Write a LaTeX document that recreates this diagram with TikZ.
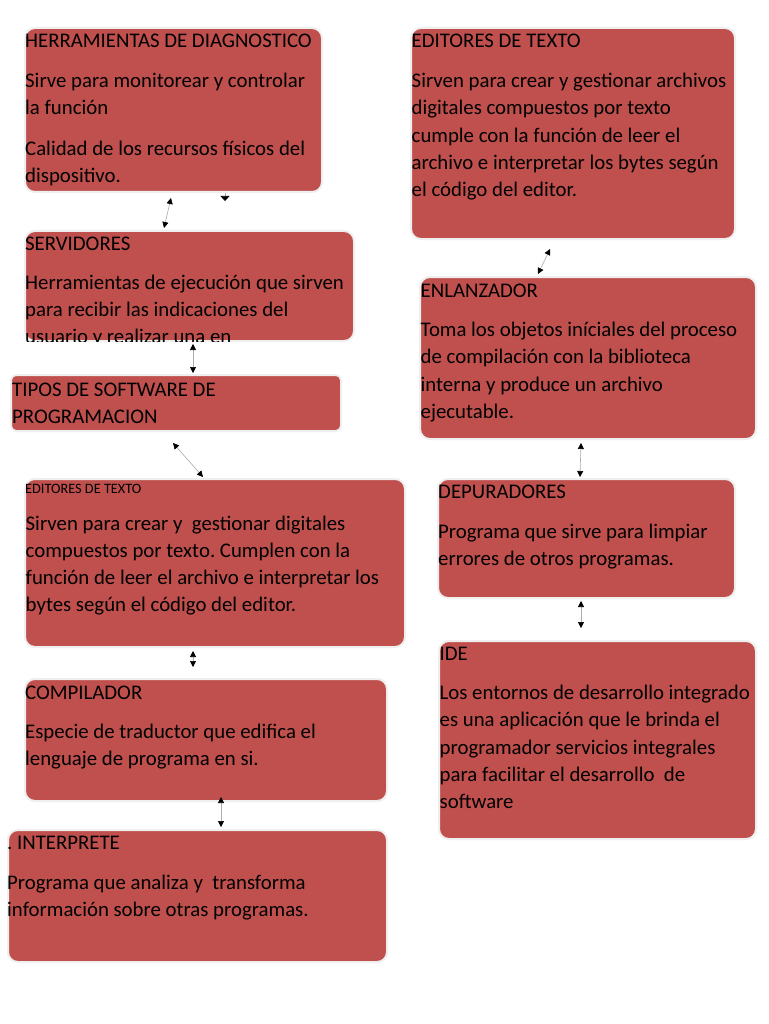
\documentclass[tikz,border=0pt]{standalone}
\usepackage{fontspec}
\setmainfont{Carlito}
\usetikzlibrary{arrows.meta}
\definecolor{boxred}{HTML}{C0504D}
\definecolor{rim}{HTML}{EFEFEF}
\newcommand\boxlines[1]{\begin{tabular}[t]{@{}l@{}}#1\end{tabular}}
\frenchspacing
\begin{document}
\begin{tikzpicture}[x=1pt,y=-1pt,
  box/.style={fill=boxred, draw=rim, line width=2pt, rounded corners=10pt, inner sep=0pt, outer sep=0pt, anchor=north west},
  txt/.style={inner sep=0pt, anchor=base west, font=\fontsize{20.8}{27.2}\selectfont, text=black},
  smalltxt/.style={inner sep=0pt, anchor=base west, font=\fontsize{14.3}{16}\selectfont, text=black},
  link/.style={draw=gray!65, line width=0.6pt, {Triangle[length=6pt,width=6pt,color=black]}-{Triangle[length=6pt,width=6pt,color=black]}},
  stub/.style={draw=gray!65, line width=0.6pt, -{Triangle[length=5pt,width=9pt,color=black]}}
]
\useasboundingbox (0,0) rectangle (768,1024);
\fill[white] (0,0) rectangle (768,1024);

% stray arrow mostly hidden behind the first box
\coordinate (s1) at (225,175);
\coordinate (s2) at (225,201);
\draw[stub] (s1) -- (s2);

% boxes
\node[box, minimum width=297pt, minimum height=164pt] (b1) at (25,28) {};
\node[box, minimum width=329pt, minimum height=110pt] (b2) at (25,231) {};
\node[box, rounded corners=5pt, minimum width=330pt, minimum height=56pt] (b3) at (11,375) {};
\node[box, minimum width=380pt, minimum height=168pt] (b4) at (25,479) {};
\node[box, minimum width=362pt, minimum height=122pt] (b5) at (25,679) {};
\node[box, minimum width=379pt, minimum height=132pt] (b6) at (8,830) {};
\node[box, minimum width=324pt, minimum height=211pt] (b7) at (411,28) {};
\node[box, minimum width=336pt, minimum height=162pt] (b8) at (420,277) {};
\node[box, minimum width=297pt, minimum height=119pt] (b9) at (438,479) {};
\node[box, minimum width=317pt, minimum height=198pt] (b10) at (439,641) {};

% texts
\node[txt] (t1) at (25,48) {\boxlines{HERRAMIENTAS DE DIAGNOSTICO\\[12pt]
Sirve para monitorear y controlar\\
la función\\[14pt]
Calidad de los recursos físicos del\\
dispositivo.}};

\begin{scope}
\clip (b2.south west) rectangle ([yshift=10pt]b2.north east);
\node[txt] (t2) at (25,251) {\boxlines{SERVIDORES\\[11pt]
Herramientas de ejecución que sirven\\
para recibir las indicaciones del\\
usuario y realizar una en}};
\end{scope}

\node[txt] (t3) at (12,396) {\boxlines{TIPOS DE SOFTWARE DE\\
PROGRAMACION}};

\node[smalltxt] (t4a) at (25,493) {EDITORES DE TEXTO};
\node[txt] (t4) at (25.5,530) {\boxlines{Sirven para crear y~ gestionar digitales\\
compuestos por texto. Cumplen con la\\
función de leer el archivo e interpretar los\\
bytes según el código del editor.}};

\node[txt] (t5) at (25,699) {\boxlines{COMPILADOR\\[12pt]
Especie de traductor que edifica el\\
lenguaje de programa en si.}};

\node[txt] (t6) at (7,849) {\boxlines{. INTERPRETE\\[13pt]
Programa que analiza y~ transforma\\
información sobre otras programas.}};

\node[txt] (t7) at (411.5,48) {\boxlines{EDITORES DE TEXTO\\[12.5pt]
Sirven para crear y gestionar archivos\\
digitales compuestos por texto\\
cumple con la función de leer el\\
archivo e interpretar los bytes según\\
el código del editor.}};

\node[txt] (t8) at (420.5,297) {\boxlines{ENLANZADOR\\[12.5pt]
Toma los objetos iníciales del proceso\\
de compilación con la biblioteca\\
interna y produce un archivo\\
ejecutable.}};

\node[txt] (t9) at (438,498) {\boxlines{DEPURADORES\\[13.5pt]
Programa que sirve para limpiar\\
errores de otros programas.}};

\node[txt] (t10) at (439.5,660) {\boxlines{IDE\\[12.5pt]
Los entornos de desarrollo integrado\\
es una aplicación que le brinda el\\
programador servicios integrales\\
para facilitar el desarrollo~ de\\
software}};

% connectors
\coordinate (a1s) at (171,198); \coordinate (a1e) at (164,228);
\draw[link] (a1s) -- (a1e);
\coordinate (a2s) at (193,344); \coordinate (a2e) at (193,373);
\draw[link] (a2s) -- (a2e);
\coordinate (a3s) at (173,443); \coordinate (a3e) at (203,477);
\draw[link] (a3s) -- (a3e);
\coordinate (a4s) at (193,651); \coordinate (a4e) at (193,667);
\draw[link] (a4s) -- (a4e);
\coordinate (a5s) at (221,797); \coordinate (a5e) at (221,827);
\draw[link] (a5s) -- (a5e);
\coordinate (a6s) at (550,249); \coordinate (a6e) at (538,274);
\draw[link] (a6s) -- (a6e);
\coordinate (a7s) at (581,443); \coordinate (a7e) at (580,477);
\draw[link] (a7s) -- (a7e);
\coordinate (a8s) at (581,601); \coordinate (a8e) at (581,628);
\draw[link] (a8s) -- (a8e);
\end{tikzpicture}
\end{document}
